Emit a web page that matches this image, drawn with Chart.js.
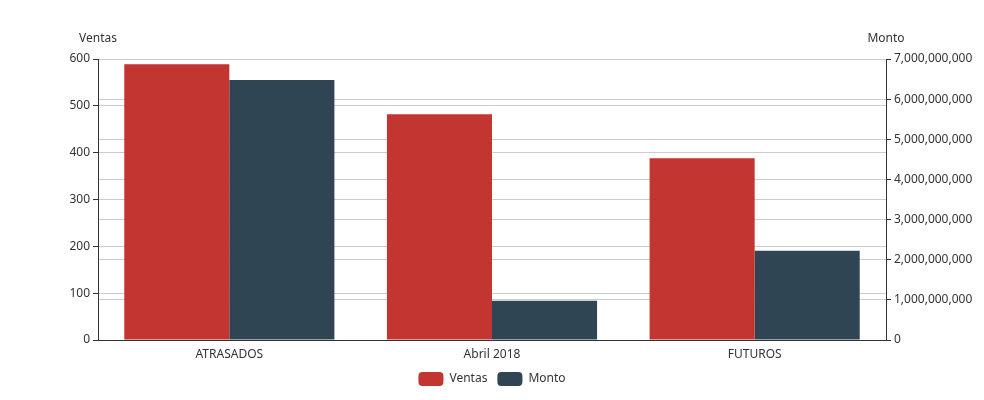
<!DOCTYPE html>
<html><head><meta charset="utf-8">
<script src="https://cdn.jsdelivr.net/npm/chart.js"></script>
<style>html,body{margin:0;padding:0;background:#fff}#w{width:984px;height:400px}</style>
</head><body><div id="w"><canvas id="c"></canvas></div>
<script>
const categories = ["ATRASADOS", "Abril 2018", "FUTUROS"];
const ventas = [589, 482, 388];
const monto = [6475000000, 975000000, 2225000000];
const leftTicks = [0, 100, 200, 300, 400, 500, 600];

const titles = {
  id: 'axTitles',
  afterDraw(ch) {
    const c = ch.ctx, a = ch.chartArea;
    c.save();
    c.font = '12px "Noto Sans", sans-serif';
    c.fillStyle = '#333';
    c.textAlign = 'center';
    c.textBaseline = 'bottom';
    c.fillText('Ventas', a.left, a.top - 14);
    c.fillText('Monto', a.right, a.top - 14);
    c.restore();
  }
};
Chart.defaults.font.family = '"Noto Sans", sans-serif';
Chart.defaults.font.size = 12;
Chart.defaults.color = '#333';
new Chart(document.getElementById('c'), {
  type: 'bar',
  data: {
    labels: categories,
    datasets: [
      { label: 'Ventas', data: ventas, backgroundColor: '#c23531', yAxisID: 'y', categoryPercentage: 0.8, barPercentage: 1.0 },
      { label: 'Monto', data: monto, backgroundColor: '#2f4554', yAxisID: 'y1', categoryPercentage: 0.8, barPercentage: 1.0 }
    ]
  },
  options: {
    responsive: true, maintainAspectRatio: false, animation: false,
    layout: { padding: { top: 59, left: 0, right: 0, bottom: 4 } },
    plugins: {
      legend: { position: 'bottom', labels: { boxWidth: 25, boxHeight: 14, padding: 10, useBorderRadius: true, borderRadius: 4 } },
      tooltip: { enabled: false }
    },
    scales: {
      x: {
        grid: { display: false, drawTicks: true, tickLength: 5 },
        border: { color: '#333' },
        ticks: { color: '#333', padding: 2 },
        afterFit(s) { s.height = 22; }
      },
      y: {
        position: 'left', min: 0, max: 600,
        afterBuildTicks(s) { s.ticks = leftTicks.map(v => ({ value: v })); },
        grid: { color: '#ccc', tickLength: 5, tickColor: '#333' },
        border: { color: '#333' },
        ticks: { color: '#333', padding: 3 },
        afterFit(s) { s.width = 98; }
      },
      y1: {
        position: 'right', min: 0, max: 7000000000,
        ticks: { stepSize: 1000000000, color: '#333', padding: 3, callback: v => v.toLocaleString('en-US') },
        grid: { color: '#ccc', tickLength: 5, tickColor: '#333' },
        border: { color: '#333' },
        afterFit(s) { s.width = 98; }
      }
    }
  },
  plugins: [titles]
});
</script></body></html>
